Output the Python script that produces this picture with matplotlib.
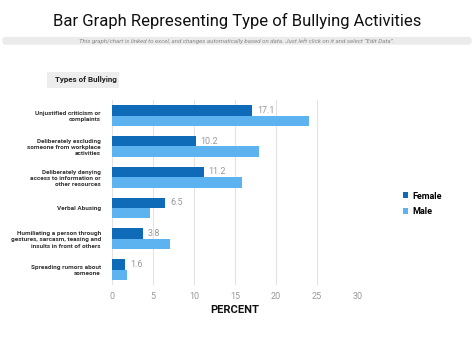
import matplotlib.pyplot as plt
from matplotlib.patches import FancyBboxPatch, Rectangle
import numpy as np

# Data
categories = [
    "Unjustified criticism or\ncomplaints",
    "Deliberately excluding\nsomeone from workplace\nactivities",
    "Deliberately denying\naccess to information or\nother resources",
    "Verbal Abusing",
    "Humiliating a person through\ngestures, sarcasm, teasing and\ninsults in front of others",
    "Spreading rumors about\nsomeone",
]
female = [17.1, 10.2, 11.2, 6.5, 3.8, 1.6]
male = [24.1, 17.9, 15.9, 4.6, 7.1, 1.9]
x_ticks = [0, 5, 10, 15, 20, 25, 30]

female_color = "#0F6BB8"
male_color = "#5CB3F0"
narrow = ["Roboto", "DejaVu Sans"]

fig = plt.figure(figsize=(4.74, 3.55), dpi=100)

# Title and subtitle band
fig.text(0.5, 0.942, "Bar Graph Representing Type of Bullying Activities",
         ha="center", va="center", fontsize=12, family=narrow, color="#111111")
fig.patches.append(FancyBboxPatch((0.005, 0.874), 0.99, 0.022,
                                  boxstyle="round,pad=0,rounding_size=0.008",
                                  transform=fig.transFigure, facecolor="#ebebeb",
                                  edgecolor="none"))
fig.text(0.5, 0.885, "This graph/chart is linked to excel, and changes automatically based on data. "
         "Just left click on it and select \u201cEdit Data\u201d.",
         ha="center", va="center", fontsize=4.4, style="italic", color="#8a8a8a",
         family=narrow)

# "Types of Bullying" header box
fig.patches.append(Rectangle((0.1, 0.752), 0.15, 0.046, transform=fig.transFigure,
                             facecolor="#ededed", edgecolor="none"))
fig.text(0.115, 0.775, "Types of Bullying", ha="left", va="center", fontsize=5.8,
         fontweight="bold", family=narrow, color="#222222")

ax = fig.add_axes([0.236, 0.197, 0.519, 0.521])
y = np.arange(len(categories))
h = 0.34
ax.barh(y - h / 2, female, height=h, color=female_color, label="Female")
ax.barh(y + h / 2, male, height=h, color=male_color, label="Male")

for yi, v in zip(y, female):
    ax.text(v + 0.6, yi - h / 2, f"{v}", va="center", ha="left", fontsize=6.5,
            color="#999999", family=narrow)

ax.set_yticks(y)
ax.set_yticklabels(categories, fontsize=4.6, fontweight="bold", color="#333333",
                   linespacing=1.3, family=narrow)
ax.set_ylim(len(categories) - 0.5, -0.5)
ax.set_xlim(0, 30)
ax.set_xticks(x_ticks)
ax.set_xticklabels([str(t) for t in x_ticks], family=narrow)
ax.tick_params(axis="x", labelsize=6.5, colors="#999999", length=0, pad=5)
ax.tick_params(axis="y", length=0, pad=8)
ax.grid(axis="x", color="#e3e3e3", linewidth=0.8)
ax.set_axisbelow(True)
for s in ax.spines.values():
    s.set_visible(False)
ax.set_xlabel("PERCENT", fontsize=8, fontweight="bold", family=narrow,
              color="#111111", labelpad=3)

ax.legend(loc="center left", bbox_to_anchor=(1.15, 0.44), frameon=False,
          prop={"family": narrow, "weight": "bold", "size": 6.5},
          handlelength=0.6, handleheight=0.6, handletextpad=0.4, labelspacing=0.7)

fig.savefig("out.png", dpi=100)
